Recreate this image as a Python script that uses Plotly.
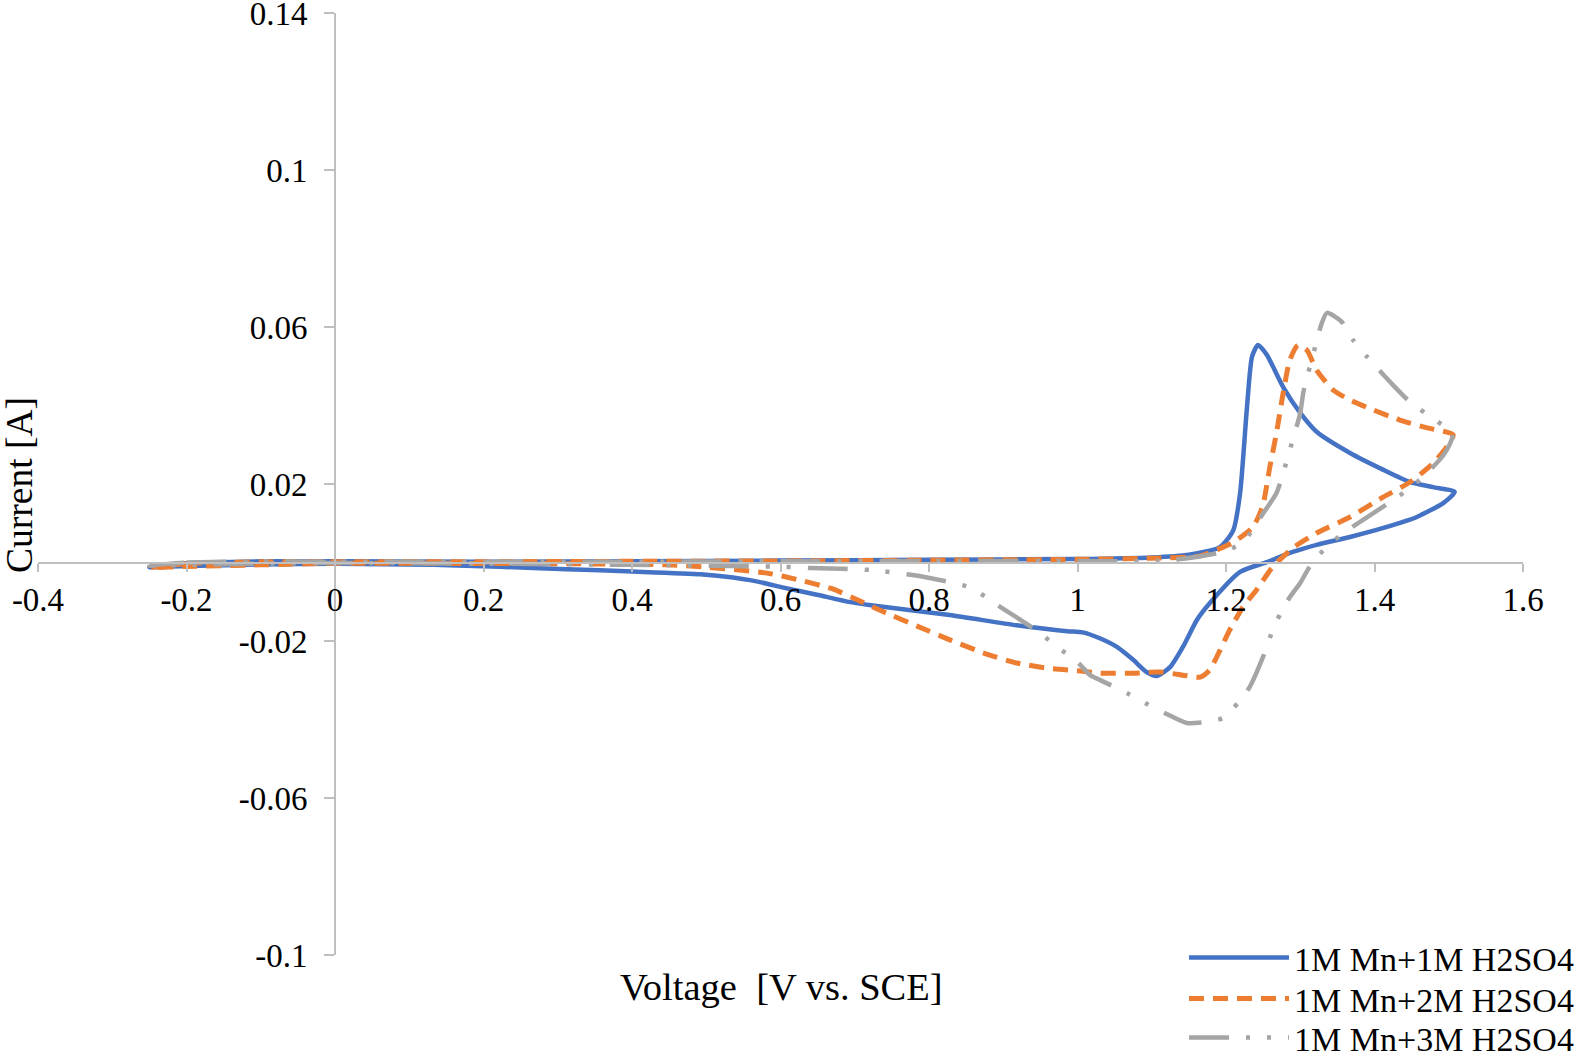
import plotly.graph_objects as go

# ---- data ----
x_1m = [-0.25, -0.2, -0.1, 0.0, 0.2, 0.4, 0.6, 0.8, 1.0, 1.1, 1.15, 1.19, 1.201, 1.21, 1.219, 1.228, 1.235, 1.243,
        1.255, 1.277, 1.30, 1.322, 1.367, 1.412, 1.448, 1.479, 1.508, 1.493, 1.457, 1.412, 1.367, 1.322, 1.29,
        1.255, 1.219, 1.178, 1.161, 1.142, 1.125, 1.107, 1.093, 1.075, 1.053, 1.03, 1.007, 0.986, 0.918, 0.828,
        0.738, 0.694, 0.649, 0.604, 0.582, 0.559, 0.536, 0.492, 0.401, 0.312, 0.222, 0.132, 0.0, -0.1, -0.2, -0.25]
y_1m = [-0.0012, -0.0002, 0.0003, 0.0003, 0.0002, 0.0003, 0.0005, 0.0007, 0.0009, 0.0013, 0.002, 0.0037, 0.0057,
        0.0083, 0.0177, 0.0389, 0.0524, 0.0554, 0.0529, 0.0447, 0.0381, 0.0333, 0.0279, 0.0236, 0.0205, 0.0192,
        0.018, 0.0152, 0.0116, 0.0088, 0.0065, 0.0045, 0.0027, 0.0001, -0.0024, -0.0104, -0.0146, -0.0215, -0.0266,
        -0.0289, -0.0279, -0.0248, -0.0215, -0.0193, -0.0178, -0.0175, -0.016, -0.0134, -0.0113, -0.0101, -0.0082,
        -0.0064, -0.0054, -0.0045, -0.0038, -0.003, -0.0023, -0.0017, -0.0011, -0.0006, -0.0003, -0.0005, -0.0009,
        -0.0012]

x_2m = [-0.25, -0.2, -0.1, 0.0, 0.2, 0.4, 0.6, 0.8, 1.0, 1.1, 1.165, 1.21, 1.236, 1.249, 1.259, 1.268, 1.277, 1.286,
        1.297, 1.309, 1.322, 1.344, 1.367, 1.398, 1.434, 1.471, 1.506, 1.497, 1.479, 1.448, 1.412, 1.367, 1.322,
        1.29, 1.263, 1.241, 1.223, 1.205, 1.192, 1.178, 1.165, 1.142, 1.111, 1.075, 1.03, 1.007, 0.963, 0.918,
        0.873, 0.828, 0.784, 0.738, 0.707, 0.671, 0.626, 0.582, 0.5, 0.447, 0.3, 0.1, 0.0, -0.1, -0.2, -0.25]
y_2m = [-0.0013, -0.0003, 0.0002, 0.0002, 0.0002, 0.0003, 0.0004, 0.0006, 0.0008, 0.0011, 0.0017, 0.0052, 0.009,
        0.0141, 0.0243, 0.033, 0.0432, 0.0516, 0.0554, 0.0541, 0.049, 0.044, 0.0414, 0.0389, 0.0363, 0.0343, 0.0325,
        0.0294, 0.0253, 0.0205, 0.0167, 0.0116, 0.0075, 0.0037, -0.0011, -0.007, -0.0113, -0.0172, -0.0223, -0.0274,
        -0.0292, -0.0287, -0.0279, -0.0282, -0.0282, -0.0277, -0.027, -0.0256, -0.023, -0.0197, -0.0162, -0.0125,
        -0.0098, -0.0068, -0.0045, -0.0027, -0.0012, -0.0006, -0.0003, -0.0002, -0.0002, -0.0006, -0.001, -0.0013]

x_3m = [-0.25, -0.2, -0.1, 0.0, 0.2, 0.4, 0.6, 0.8, 1.0, 1.12, 1.196, 1.223, 1.25, 1.268, 1.277, 1.286, 1.30, 1.304,
        1.311, 1.32, 1.329, 1.336, 1.356, 1.371, 1.39, 1.425, 1.445, 1.468, 1.497, 1.506, 1.502, 1.493, 1.471, 1.448,
        1.425, 1.38, 1.358, 1.336, 1.316, 1.30, 1.286, 1.273, 1.263, 1.25, 1.232, 1.216, 1.196, 1.174, 1.147, 1.118,
        1.091, 1.067, 1.03, 1.017, 0.997, 0.972, 0.95, 0.909, 0.882, 0.858, 0.828, 0.778, 0.721, 0.64, 0.604, 0.4,
        0.2, 0.0, -0.1, -0.2, -0.25]
y_3m = [-0.0008, 0.0, 0.0003, 0.0002, 0.0002, 0.0002, 0.0003, 0.0004, 0.0004, 0.0005, 0.0027, 0.0052, 0.0125, 0.0177,
        0.0228, 0.0287, 0.0381, 0.0432, 0.0485, 0.0549, 0.061, 0.0636, 0.0613, 0.0567, 0.0524, 0.0452, 0.0414, 0.0381,
        0.0343, 0.033, 0.0304, 0.0274, 0.0228, 0.019, 0.0159, 0.0103, 0.0075, 0.004, 0.0, -0.0052, -0.0088, -0.0131,
        -0.0172, -0.024, -0.0317, -0.0358, -0.0396, -0.0406, -0.0409, -0.0384, -0.0358, -0.0333, -0.0299, -0.0287,
        -0.0248, -0.0215, -0.018, -0.0129, -0.0096, -0.0065, -0.005, -0.0032, -0.0019, -0.0014, -0.0011, -0.0006,
        -0.0003, -0.0001, -0.0003, -0.0006, -0.0008]

names = ["1M Mn+1M H2SO4", "1M Mn+2M H2SO4", "1M Mn+3M H2SO4"]

x_ticks = [-0.4, -0.2, 0, 0.2, 0.4, 0.6, 0.8, 1, 1.2, 1.4, 1.6]
x_tick_text = ["-0.4", "-0.2", "0", "0.2", "0.4", "0.6", "0.8", "1", "1.2", "1.4", "1.6"]
y_ticks = [-0.1, -0.06, -0.02, 0.02, 0.06, 0.1, 0.14]
y_tick_text = ["-0.1", "-0.06", "-0.02", "0.02", "0.06", "0.1", "0.14"]

FONT = "Liberation Serif, Times New Roman, serif"
AXIS_COLOR = "#BFBFBF"

fig = go.Figure()
fig.add_trace(go.Scatter(x=x_1m, y=y_1m, mode="lines", name=names[0], legend="legend",
                         line=dict(color="#4472C4", width=4.5, shape="spline", smoothing=0.6)))
fig.add_trace(go.Scatter(x=x_2m, y=y_2m, mode="lines", name=names[1], legend="legend2",
                         line=dict(color="#ED7D31", width=5, dash="15px,9px", shape="spline", smoothing=0.6)))
fig.add_trace(go.Scatter(x=x_3m, y=y_3m, mode="lines", name=names[2], legend="legend3",
                         line=dict(color="#A5A5A5", width=4.5, dash="40px,17px,4px,17px,4px,17px",
                                   shape="spline", smoothing=0.6)))

W, H = 1575, 1054
# pixel geometry: y=0.14 at 13px, y=-0.1 at 955px; x=-0.4 at 38px, x=1.6 at 1523px
L, R, T, B = 38, 52, 13, 99
pw, ph = W - L - R, H - T - B
y_lo, y_hi = -0.1, 0.14


def px_x(px):
    return (px - L) / pw


def px_y(py):
    return (H - B - py) / ph


legend_common = dict(font=dict(family=FONT, size=34, color="black"), itemwidth=100,
                     xanchor="left", yanchor="middle", bgcolor="rgba(0,0,0,0)", borderwidth=0)

fig.update_layout(
    width=W, height=H,
    showlegend=True,
    margin=dict(l=L, r=R, t=T, b=B, autoexpand=False),
    paper_bgcolor="white", plot_bgcolor="white",
    font=dict(family=FONT, color="black"),
    xaxis=dict(range=[-0.4, 1.6], anchor="free", position=(0 - y_lo) / (y_hi - y_lo),
               showgrid=False, zeroline=False, showline=True, linecolor=AXIS_COLOR, linewidth=2,
               ticks="outside", ticklen=8, tickwidth=2, tickcolor=AXIS_COLOR, ticklabeloverflow="allow",
               tickvals=x_ticks, ticktext=x_tick_text, tickfont=dict(family=FONT, size=33, color="black")),
    yaxis=dict(range=[y_lo, y_hi + 1e-9], anchor="free", position=0.2,
               showgrid=False, zeroline=False, showline=True, linecolor=AXIS_COLOR, linewidth=2,
               ticks="outside", ticklen=10, tickwidth=2, tickcolor=AXIS_COLOR,
               tickvals=y_ticks, ticktext=y_tick_text, ticklabelstandoff=10, ticklabeloverflow="allow",
               tickfont=dict(family=FONT, size=33, color="black")),
    legend=dict(x=px_x(1184), y=px_y(958), **legend_common),
    legend2=dict(x=px_x(1184), y=px_y(999), **legend_common),
    legend3=dict(x=px_x(1184), y=px_y(1038), **legend_common),
    annotations=[
        dict(text="Voltage\u00a0 [V vs. SCE]", xref="paper", yref="paper", x=px_x(781), y=px_y(987),
             xanchor="center", yanchor="middle", showarrow=False, font=dict(family=FONT, size=38.5, color="black")),
        dict(text="Current [A]", xref="paper", yref="paper", x=px_x(19), y=px_y(485), textangle=-90,
             xanchor="center", yanchor="middle", showarrow=False, font=dict(family=FONT, size=37.5, color="black")),
    ],
)

fig.write_html("out.html")
